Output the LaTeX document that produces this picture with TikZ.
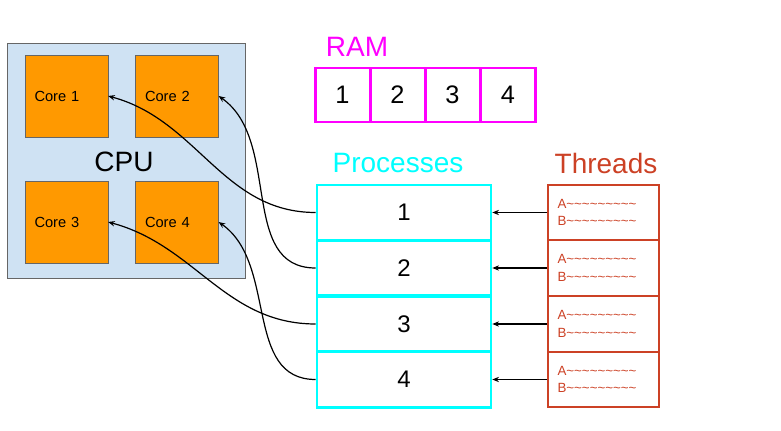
\documentclass[tikz,border=0pt]{standalone}
\usepackage{fontspec}
\setmainfont{Liberation Sans}
\usetikzlibrary{arrows.meta}
\definecolor{cpublue}{RGB}{207,226,243}
\definecolor{coreorange}{RGB}{255,153,0}
\definecolor{thred}{RGB}{204,65,37}
\definecolor{rammag}{RGB}{255,0,255}
\definecolor{proccyan}{RGB}{0,255,255}
\newcommand{\squig}{\textasciitilde\textasciitilde\textasciitilde\textasciitilde\textasciitilde\textasciitilde\textasciitilde\textasciitilde\textasciitilde}
\begin{document}
\begin{tikzpicture}[x=0.75pt, y=-0.75pt,
core/.style={draw=black!60, fill=coreorange, minimum width=62pt, minimum height=61.5pt, inner sep=0pt, text width=48pt, align=left, font=\fontsize{11}{13}\selectfont},
ram/.style={draw=rammag, line width=2pt, minimum width=41pt, minimum height=40.5pt, inner sep=0pt, font=\fontsize{19}{22}\selectfont},
proc/.style={draw=proccyan, line width=2pt, minimum width=130.5pt, minimum height=41.5pt, inner sep=0pt, font=\fontsize{18}{22}\selectfont},
thr/.style={draw=thred, line width=1.5pt, text=thred, minimum width=83pt, minimum height=41.5pt, inner sep=0pt, text width=69pt, align=left, font=\fontsize{10}{13}\selectfont},
title/.style={font=\fontsize{21}{24}\selectfont},
link/.style={-{Stealth[length=5pt,width=4pt]}, line width=0.9pt}]
\useasboundingbox (0,0) rectangle (781,431);
%================================================================
% CPU
\node[draw=black!60, fill=cpublue, minimum width=178.5pt, minimum height=176pt, inner sep=0pt] (cpu) at (126,160.5) {};
\node[title] (cpulabel) at (124,162) {CPU};
\node[core] (c1) at (66.5,96) {Core 1};
\node[core] (c2) at (177,96) {Core 2};
\node[core] (c3) at (66.5,222) {Core 3};
\node[core] (c4) at (177,222) {Core 4};
%================================================================
% RAM
\node[title, text=rammag] (ramlabel) at (357,47) {RAM};
\foreach \i/\x in {1/342.5,2/397.5,3/452.5,4/508}
  \node[ram] (r\i) at (\x,95) {\i};
%================================================================
% Processes and threads
\node[title, text=proccyan] (proclabel) at (398,163) {Processes};
\node[title, text=thred] (thrlabel) at (606,163) {Threads};
\foreach \i/\y in {1/212.5,2/268,3/324,4/379.5} {
  \node[proc] (p\i) at (404,\y) {\i};
  \node[thr] (t\i) at (603.5,\y) {A\squig\\B\squig};
  \draw[link] (t\i) -- (p\i);
}
%================================================================
% Scheduling
\draw[link] (p1.west) to[out=180, in=-15] (c1.east);
\draw[link] (p2.west) to[out=180, in=-35] (c2.east);
\draw[link] (p3.west) to[out=180, in=-15] (c3.east);
\draw[link] (p4.west) to[out=180, in=-35] (c4.east);
\end{tikzpicture}
\end{document}
